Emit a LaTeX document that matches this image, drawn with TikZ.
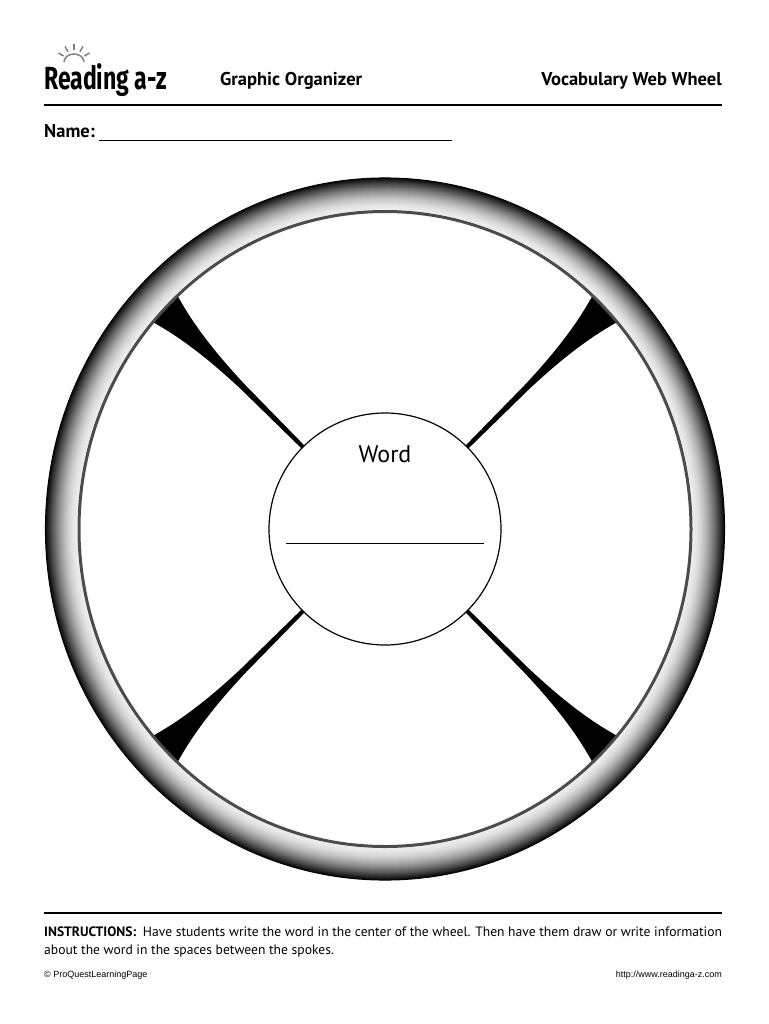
\documentclass[tikz,border=0pt]{standalone}
\usetikzlibrary{calc}
\usepackage{fontspec}
\setmainfont{PT Sans}
\newfontfamily\logofont{Fira Sans}
\begin{document}
\begin{tikzpicture}[x=1pt,y=-1pt,
  hdr/.style={font=\bfseries\fontsize{18.5}{20}\selectfont,anchor=base west,inner sep=0},
  instr/.style={font=\fontsize{13.6}{15}\selectfont,anchor=base west,inner sep=0},
  foot/.style={font=\fontsize{9}{11}\selectfont,anchor=base,inner sep=0}]
\useasboundingbox[fill=white] (0,0) rectangle (768,1024);
% header
\node[inner sep=0,anchor=base west,font=\logofont\bfseries\fontsize{32}{34}\selectfont,xscale=0.72] (logo) at (44,90) {Reading a-z};
\draw[line width=1.5pt,gray] (64,62) arc[start angle=180,end angle=360,x radius=10,y radius=8];
\foreach \a in {30,60,90,120,150}
  \draw[line width=1.5pt,gray] ($(74,62)+(\a:-12)$) -- ($(74,62)+(\a:-18)$);
\node[hdr] (go) at (220,86) {Graphic Organizer};
\node[hdr,anchor=base east] (vw) at (722,86) {Vocabulary Web Wheel};
\draw[line width=2.5pt] (44,105) coordinate (hl) -- (722,105) coordinate (hr);
\node[hdr] (name) at (44,138) {Name:};
\draw[line width=1pt] (name.base east) ++(4,3) coordinate (nl) -- (452,141) coordinate (nr);
% wheel
\coordinate (c) at (385,529);
\begin{scope}
\clip (c) ellipse[x radius=306,y radius=317];
\foreach \ang in {45,135,225,315}{
  \begin{scope}[shift={(c)},rotate=\ang]
  \fill (112,-2) -- (200,-3) .. controls (260,-5) and (295,-12) .. (330,-24)
     -- (330,24) .. controls (295,12) and (260,5) .. (200,3) -- (112,2) -- cycle;
  \end{scope}}
\end{scope}
\foreach \i in {0,...,62}{
  \pgfmathsetmacro\rx{339.5-\i*0.5}
  \pgfmathsetmacro\ry{351-\i*0.5}
  \pgfmathsetmacro\g{92*(1-(1-\i/62)^1.6)}
  \draw[line width=1.1pt,draw=white!\g!black] (c) ellipse[x radius=\rx,y radius=\ry];
}
\draw[line width=3pt,black!70] (c) ellipse[x radius=306,y radius=317.5];
\node[circle,draw,line width=1.2pt,fill=white,minimum size=232,inner sep=0] (hub) at (c) {};
\node[font=\fontsize{24}{28}\selectfont] (word) at (385,454) {Word};
\draw[line width=0.8pt] (286,543) coordinate (wl) -- (484,543) coordinate (wr);
% footer
\draw[line width=1.5pt] (44,913) coordinate (bl) -- (722,913) coordinate (br);
\node[instr] (i1) at (44,936) {\textbf{INSTRUCTIONS:}\enspace Have students write the word in the center of the wheel. Then have them draw or write information};
\node[instr] (i2) at (44,954) {about the word in the spaces between the spokes.};
\node[foot,anchor=base west] (copy) at (44,977) {\fontspec{Liberation Sans}\fontsize{9}{11}\selectfont © ProQuestLearningPage};
\node[foot,anchor=base east] (url) at (722,977) {\fontspec{Liberation Sans}\fontsize{9}{11}\selectfont http://www.readinga-z.com};
\end{tikzpicture}
\end{document}
